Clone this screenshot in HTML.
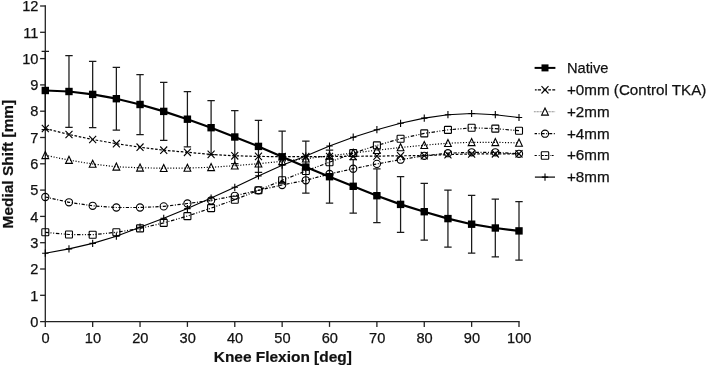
<!DOCTYPE html>
<html><head><meta charset="utf-8"><title>Medial Shift vs Knee Flexion</title>
<style>html,body{margin:0;padding:0;background:#fff}body{width:709px;height:367px;overflow:hidden}</style></head>
<body>
<svg width="709" height="367" viewBox="0 0 709 367" style="display:block">
<rect width="709" height="367" fill="#fff"/>
<g stroke="#222" stroke-width="1.3" fill="none">
<path d="M45.3 5.35L45.3 326.9"/>
<path d="M40.1 321.6L519.65 321.6"/>
<path d="M40.1 295.3L45.3 295.3"/>
<path d="M40.1 269L45.3 269"/>
<path d="M40.1 242.7L45.3 242.7"/>
<path d="M40.1 216.4L45.3 216.4"/>
<path d="M40.1 190.1L45.3 190.1"/>
<path d="M40.1 163.8L45.3 163.8"/>
<path d="M40.1 137.5L45.3 137.5"/>
<path d="M40.1 111.2L45.3 111.2"/>
<path d="M40.1 84.9L45.3 84.9"/>
<path d="M40.1 58.6L45.3 58.6"/>
<path d="M40.1 32.3L45.3 32.3"/>
<path d="M40.1 6L45.3 6"/>
<path d="M92.67 321.6L92.67 326.9"/>
<path d="M140.04 321.6L140.04 326.9"/>
<path d="M187.41 321.6L187.41 326.9"/>
<path d="M234.78 321.6L234.78 326.9"/>
<path d="M282.15 321.6L282.15 326.9"/>
<path d="M329.52 321.6L329.52 326.9"/>
<path d="M376.89 321.6L376.89 326.9"/>
<path d="M424.26 321.6L424.26 326.9"/>
<path d="M471.63 321.6L471.63 326.9"/>
<path d="M519 321.6L519 326.9"/>
</g>
<g font-family="'Liberation Sans', Arial, sans-serif" font-size="14.6" fill="#111" stroke="#111" stroke-width="0.25">
<text x="38.4" y="326.8" text-anchor="end">0</text>
<text x="38.4" y="300.5" text-anchor="end">1</text>
<text x="38.4" y="274.2" text-anchor="end">2</text>
<text x="38.4" y="247.9" text-anchor="end">3</text>
<text x="38.4" y="221.6" text-anchor="end">4</text>
<text x="38.4" y="195.3" text-anchor="end">5</text>
<text x="38.4" y="169" text-anchor="end">6</text>
<text x="38.4" y="142.7" text-anchor="end">7</text>
<text x="38.4" y="116.4" text-anchor="end">8</text>
<text x="38.4" y="90.1" text-anchor="end">9</text>
<text x="38.4" y="63.8" text-anchor="end">10</text>
<text x="38.4" y="37.5" text-anchor="end">11</text>
<text x="38.4" y="11.2" text-anchor="end">12</text>
<text x="45.6" y="342.9" text-anchor="middle">0</text>
<text x="92.97" y="342.9" text-anchor="middle">10</text>
<text x="140.34" y="342.9" text-anchor="middle">20</text>
<text x="187.71" y="342.9" text-anchor="middle">30</text>
<text x="235.08" y="342.9" text-anchor="middle">40</text>
<text x="282.45" y="342.9" text-anchor="middle">50</text>
<text x="329.82" y="342.9" text-anchor="middle">60</text>
<text x="377.19" y="342.9" text-anchor="middle">70</text>
<text x="424.56" y="342.9" text-anchor="middle">80</text>
<text x="471.93" y="342.9" text-anchor="middle">90</text>
<text x="519.3" y="342.9" text-anchor="middle">100</text>
</g>
<g font-family="'Liberation Sans', Arial, sans-serif" font-size="15.45" font-weight="bold" fill="#111" stroke="#111" stroke-width="0.2">
<text x="282.8" y="362" text-anchor="middle">Knee Flexion [deg]</text>
<text transform="translate(13.0,164.1) rotate(-90)" text-anchor="middle">Medial Shift [mm]</text>
</g>
<g stroke="#1a1a1a" stroke-width="1.25" fill="none">
<path d="M45.3 51.3L45.3 129.7M41.6 51.3L49 51.3M41.6 129.7L49 129.7"/>
<path d="M68.98 55.7L68.98 127.3M65.28 55.7L72.69 55.7M65.28 127.3L72.69 127.3"/>
<path d="M92.67 61.3L92.67 127.5M88.97 61.3L96.37 61.3M88.97 127.5L96.37 127.5"/>
<path d="M116.36 67.3L116.36 130.1M112.66 67.3L120.06 67.3M112.66 130.1L120.06 130.1"/>
<path d="M140.04 74.5L140.04 134.5M136.34 74.5L143.74 74.5M136.34 134.5L143.74 134.5"/>
<path d="M163.72 82.4L163.72 140.4M160.03 82.4L167.42 82.4M160.03 140.4L167.42 140.4"/>
<path d="M187.41 91.5L187.41 146.9M183.71 91.5L191.11 91.5M183.71 146.9L191.11 146.9"/>
<path d="M211.1 100.7L211.1 154.7M207.4 100.7L214.8 100.7M207.4 154.7L214.8 154.7"/>
<path d="M234.78 110.5L234.78 163.5M231.08 110.5L238.48 110.5M231.08 163.5L238.48 163.5"/>
<path d="M258.46 120.4L258.46 172.4M254.76 120.4L262.16 120.4M254.76 172.4L262.16 172.4"/>
<path d="M282.15 131L282.15 182.6M278.45 131L285.85 131M278.45 182.6L285.85 182.6"/>
<path d="M305.84 141.1L305.84 193.1M302.14 141.1L309.54 141.1M302.14 193.1L309.54 193.1"/>
<path d="M329.52 150.2L329.52 203.2M325.82 150.2L333.22 150.2M325.82 203.2L333.22 203.2"/>
<path d="M353.21 159.5L353.21 213.1M349.51 159.5L356.91 159.5M349.51 213.1L356.91 213.1"/>
<path d="M376.89 168.8L376.89 222.6M373.19 168.8L380.59 168.8M373.19 222.6L380.59 222.6"/>
<path d="M400.58 176.5L400.58 232.3M396.88 176.5L404.28 176.5M396.88 232.3L404.28 232.3"/>
<path d="M424.26 183.4L424.26 240M420.56 183.4L427.96 183.4M420.56 240L427.96 240"/>
<path d="M447.94 190L447.94 247.2M444.25 190L451.64 190M444.25 247.2L451.64 247.2"/>
<path d="M471.63 195.3L471.63 253.1M467.93 195.3L475.33 195.3M467.93 253.1L475.33 253.1"/>
<path d="M495.31 199.1L495.31 256.9M491.62 199.1L499.01 199.1M491.62 256.9L499.01 256.9"/>
<path d="M519 201.7L519 260.1M515.3 201.7L522.7 201.7M515.3 260.1L522.7 260.1"/>
</g>
<g stroke="#000" fill="none" stroke-linejoin="round">
<polyline points="45.3,128.5 68.98,134.5 92.67,139.5 116.36,143.7 140.04,147.2 163.72,150.2 187.41,152.3 211.1,154.4 234.78,155.8 258.46,156.4 282.15,156.7 305.84,156.7 329.52,156.5 353.21,156.3 376.89,156.1 400.58,155.8 424.26,155.6 447.94,154.6 471.63,153.9 495.31,153.8 519,153.8" stroke-width="1.2" stroke-dasharray="2.6 1.7"/>
<polyline points="45.3,155.3 68.98,160.1 92.67,164 116.36,166.8 140.04,167.8 163.72,168.2 187.41,168 211.1,167.3 234.78,165.7 258.46,163.7 282.15,161.3 305.84,158.7 329.52,155.8 353.21,153 376.89,150.2 400.58,147.5 424.26,145.2 447.94,143.2 471.63,142.3 495.31,142.3 519,142.9" stroke-width="1.2" stroke-dasharray="1.1 1.7"/>
<polyline points="45.3,197 68.98,202.3 92.67,205.8 116.36,207.5 140.04,207.5 163.72,206.4 187.41,203.5 211.1,200.5 234.78,195.8 258.46,190.3 282.15,185 305.84,180.3 329.52,174 353.21,168.7 376.89,163.9 400.58,159.7 424.26,155.8 447.94,153.2 471.63,152.3 495.31,152.3 519,153.8" stroke-width="1.2" stroke-dasharray="3.2 1.6 1 1.6"/>
<polyline points="45.3,232.3 68.98,234.5 92.67,234.7 116.36,232.3 140.04,228.4 163.72,222.9 187.41,216.1 211.1,208.1 234.78,199.7 258.46,190.3 282.15,180.3 305.84,171 329.52,162.2 353.21,153.1 376.89,145.4 400.58,138.7 424.26,133.4 447.94,129.9 471.63,127.8 495.31,128.6 519,130.7" stroke-width="1.2" stroke-dasharray="3.5 1.7 1 1.7 1 1.7"/>
<polyline points="45.3,253.2 68.98,248.9 92.67,243.4 116.36,236.2 140.04,227.2 163.72,218.3 187.41,208.6 211.1,198 234.78,187.3 258.46,175.9 282.15,165.2 305.84,156.1 329.52,146 353.21,137.2 376.89,129.7 400.58,123.3 424.26,118.1 447.94,114.7 471.63,113.5 495.31,114.7 519,117.5" stroke-width="1.1"/>
<polyline points="45.3,90.5 68.98,91.5 92.67,94.4 116.36,98.7 140.04,104.5 163.72,111.4 187.41,119.2 211.1,127.7 234.78,137 258.46,146.4 282.15,156.8 305.84,167.1 329.52,176.7 353.21,186.3 376.89,195.7 400.58,204.4 424.26,211.7 447.94,218.6 471.63,224.2 495.31,228 519,230.9" stroke-width="2.2"/>
</g>
<path d="M41.8 124.8L48.8 132.2M41.8 132.2L48.8 124.8" stroke="#000" stroke-width="1.1" fill="none"/>
<path d="M65.48 130.8L72.48 138.2M65.48 138.2L72.48 130.8" stroke="#000" stroke-width="1.1" fill="none"/>
<path d="M89.17 135.8L96.17 143.2M89.17 143.2L96.17 135.8" stroke="#000" stroke-width="1.1" fill="none"/>
<path d="M112.86 140L119.86 147.4M112.86 147.4L119.86 140" stroke="#000" stroke-width="1.1" fill="none"/>
<path d="M136.54 143.5L143.54 150.9M136.54 150.9L143.54 143.5" stroke="#000" stroke-width="1.1" fill="none"/>
<path d="M160.22 146.5L167.22 153.9M160.22 153.9L167.22 146.5" stroke="#000" stroke-width="1.1" fill="none"/>
<path d="M183.91 148.6L190.91 156M183.91 156L190.91 148.6" stroke="#000" stroke-width="1.1" fill="none"/>
<path d="M207.6 150.7L214.6 158.1M207.6 158.1L214.6 150.7" stroke="#000" stroke-width="1.1" fill="none"/>
<path d="M231.28 152.1L238.28 159.5M231.28 159.5L238.28 152.1" stroke="#000" stroke-width="1.1" fill="none"/>
<path d="M254.96 152.7L261.96 160.1M254.96 160.1L261.96 152.7" stroke="#000" stroke-width="1.1" fill="none"/>
<path d="M278.65 153L285.65 160.4M278.65 160.4L285.65 153" stroke="#000" stroke-width="1.1" fill="none"/>
<path d="M302.34 153L309.34 160.4M302.34 160.4L309.34 153" stroke="#000" stroke-width="1.1" fill="none"/>
<path d="M326.02 152.8L333.02 160.2M326.02 160.2L333.02 152.8" stroke="#000" stroke-width="1.1" fill="none"/>
<path d="M349.71 152.6L356.71 160M349.71 160L356.71 152.6" stroke="#000" stroke-width="1.1" fill="none"/>
<path d="M373.39 152.4L380.39 159.8M373.39 159.8L380.39 152.4" stroke="#000" stroke-width="1.1" fill="none"/>
<path d="M397.08 152.1L404.08 159.5M397.08 159.5L404.08 152.1" stroke="#000" stroke-width="1.1" fill="none"/>
<path d="M420.76 151.9L427.76 159.3M420.76 159.3L427.76 151.9" stroke="#000" stroke-width="1.1" fill="none"/>
<path d="M444.44 150.9L451.44 158.3M444.44 158.3L451.44 150.9" stroke="#000" stroke-width="1.1" fill="none"/>
<path d="M468.13 150.2L475.13 157.6M468.13 157.6L475.13 150.2" stroke="#000" stroke-width="1.1" fill="none"/>
<path d="M491.81 150.1L498.81 157.5M491.81 157.5L498.81 150.1" stroke="#000" stroke-width="1.1" fill="none"/>
<path d="M515.5 150.1L522.5 157.5M515.5 157.5L522.5 150.1" stroke="#000" stroke-width="1.1" fill="none"/>
<path d="M45.3 151.5L48.7 158.6L41.9 158.6Z" stroke="#000" stroke-width="1.1" fill="none" stroke-linejoin="miter"/>
<path d="M68.98 156.3L72.39 163.4L65.58 163.4Z" stroke="#000" stroke-width="1.1" fill="none" stroke-linejoin="miter"/>
<path d="M92.67 160.2L96.07 167.3L89.27 167.3Z" stroke="#000" stroke-width="1.1" fill="none" stroke-linejoin="miter"/>
<path d="M116.36 163L119.76 170.1L112.95 170.1Z" stroke="#000" stroke-width="1.1" fill="none" stroke-linejoin="miter"/>
<path d="M140.04 164L143.44 171.1L136.64 171.1Z" stroke="#000" stroke-width="1.1" fill="none" stroke-linejoin="miter"/>
<path d="M163.72 164.4L167.12 171.5L160.32 171.5Z" stroke="#000" stroke-width="1.1" fill="none" stroke-linejoin="miter"/>
<path d="M187.41 164.2L190.81 171.3L184.01 171.3Z" stroke="#000" stroke-width="1.1" fill="none" stroke-linejoin="miter"/>
<path d="M211.1 163.5L214.5 170.6L207.7 170.6Z" stroke="#000" stroke-width="1.1" fill="none" stroke-linejoin="miter"/>
<path d="M234.78 161.9L238.18 169L231.38 169Z" stroke="#000" stroke-width="1.1" fill="none" stroke-linejoin="miter"/>
<path d="M258.46 159.9L261.86 167L255.06 167Z" stroke="#000" stroke-width="1.1" fill="none" stroke-linejoin="miter"/>
<path d="M282.15 157.5L285.55 164.6L278.75 164.6Z" stroke="#000" stroke-width="1.1" fill="none" stroke-linejoin="miter"/>
<path d="M305.84 154.9L309.24 162L302.44 162Z" stroke="#000" stroke-width="1.1" fill="none" stroke-linejoin="miter"/>
<path d="M329.52 152L332.92 159.1L326.12 159.1Z" stroke="#000" stroke-width="1.1" fill="none" stroke-linejoin="miter"/>
<path d="M353.21 149.2L356.61 156.3L349.81 156.3Z" stroke="#000" stroke-width="1.1" fill="none" stroke-linejoin="miter"/>
<path d="M376.89 146.4L380.29 153.5L373.49 153.5Z" stroke="#000" stroke-width="1.1" fill="none" stroke-linejoin="miter"/>
<path d="M400.58 143.7L403.98 150.8L397.18 150.8Z" stroke="#000" stroke-width="1.1" fill="none" stroke-linejoin="miter"/>
<path d="M424.26 141.4L427.66 148.5L420.86 148.5Z" stroke="#000" stroke-width="1.1" fill="none" stroke-linejoin="miter"/>
<path d="M447.94 139.4L451.34 146.5L444.55 146.5Z" stroke="#000" stroke-width="1.1" fill="none" stroke-linejoin="miter"/>
<path d="M471.63 138.5L475.03 145.6L468.23 145.6Z" stroke="#000" stroke-width="1.1" fill="none" stroke-linejoin="miter"/>
<path d="M495.31 138.5L498.71 145.6L491.92 145.6Z" stroke="#000" stroke-width="1.1" fill="none" stroke-linejoin="miter"/>
<path d="M519 139.1L522.4 146.2L515.6 146.2Z" stroke="#000" stroke-width="1.1" fill="none" stroke-linejoin="miter"/>
<circle cx="45.3" cy="197" r="3.6" stroke="#000" stroke-width="1.1" fill="none"/>
<circle cx="68.98" cy="202.3" r="3.6" stroke="#000" stroke-width="1.1" fill="none"/>
<circle cx="92.67" cy="205.8" r="3.6" stroke="#000" stroke-width="1.1" fill="none"/>
<circle cx="116.36" cy="207.5" r="3.6" stroke="#000" stroke-width="1.1" fill="none"/>
<circle cx="140.04" cy="207.5" r="3.6" stroke="#000" stroke-width="1.1" fill="none"/>
<circle cx="163.72" cy="206.4" r="3.6" stroke="#000" stroke-width="1.1" fill="none"/>
<circle cx="187.41" cy="203.5" r="3.6" stroke="#000" stroke-width="1.1" fill="none"/>
<circle cx="211.1" cy="200.5" r="3.6" stroke="#000" stroke-width="1.1" fill="none"/>
<circle cx="234.78" cy="195.8" r="3.6" stroke="#000" stroke-width="1.1" fill="none"/>
<circle cx="258.46" cy="190.3" r="3.6" stroke="#000" stroke-width="1.1" fill="none"/>
<circle cx="282.15" cy="185" r="3.6" stroke="#000" stroke-width="1.1" fill="none"/>
<circle cx="305.84" cy="180.3" r="3.6" stroke="#000" stroke-width="1.1" fill="none"/>
<circle cx="329.52" cy="174" r="3.6" stroke="#000" stroke-width="1.1" fill="none"/>
<circle cx="353.21" cy="168.7" r="3.6" stroke="#000" stroke-width="1.1" fill="none"/>
<circle cx="376.89" cy="163.9" r="3.6" stroke="#000" stroke-width="1.1" fill="none"/>
<circle cx="400.58" cy="159.7" r="3.6" stroke="#000" stroke-width="1.1" fill="none"/>
<circle cx="424.26" cy="155.8" r="3.6" stroke="#000" stroke-width="1.1" fill="none"/>
<circle cx="447.94" cy="153.2" r="3.6" stroke="#000" stroke-width="1.1" fill="none"/>
<circle cx="471.63" cy="152.3" r="3.6" stroke="#000" stroke-width="1.1" fill="none"/>
<circle cx="495.31" cy="152.3" r="3.6" stroke="#000" stroke-width="1.1" fill="none"/>
<circle cx="519" cy="153.8" r="3.6" stroke="#000" stroke-width="1.1" fill="none"/>
<rect x="41.8" y="228.8" width="7" height="7" rx="0.7" stroke="#000" stroke-width="1.1" fill="none"/>
<rect x="65.48" y="231" width="7" height="7" rx="0.7" stroke="#000" stroke-width="1.1" fill="none"/>
<rect x="89.17" y="231.2" width="7" height="7" rx="0.7" stroke="#000" stroke-width="1.1" fill="none"/>
<rect x="112.86" y="228.8" width="7" height="7" rx="0.7" stroke="#000" stroke-width="1.1" fill="none"/>
<rect x="136.54" y="224.9" width="7" height="7" rx="0.7" stroke="#000" stroke-width="1.1" fill="none"/>
<rect x="160.22" y="219.4" width="7" height="7" rx="0.7" stroke="#000" stroke-width="1.1" fill="none"/>
<rect x="183.91" y="212.6" width="7" height="7" rx="0.7" stroke="#000" stroke-width="1.1" fill="none"/>
<rect x="207.6" y="204.6" width="7" height="7" rx="0.7" stroke="#000" stroke-width="1.1" fill="none"/>
<rect x="231.28" y="196.2" width="7" height="7" rx="0.7" stroke="#000" stroke-width="1.1" fill="none"/>
<rect x="254.96" y="186.8" width="7" height="7" rx="0.7" stroke="#000" stroke-width="1.1" fill="none"/>
<rect x="278.65" y="176.8" width="7" height="7" rx="0.7" stroke="#000" stroke-width="1.1" fill="none"/>
<rect x="302.34" y="167.5" width="7" height="7" rx="0.7" stroke="#000" stroke-width="1.1" fill="none"/>
<rect x="326.02" y="158.7" width="7" height="7" rx="0.7" stroke="#000" stroke-width="1.1" fill="none"/>
<rect x="349.71" y="149.6" width="7" height="7" rx="0.7" stroke="#000" stroke-width="1.1" fill="none"/>
<rect x="373.39" y="141.9" width="7" height="7" rx="0.7" stroke="#000" stroke-width="1.1" fill="none"/>
<rect x="397.08" y="135.2" width="7" height="7" rx="0.7" stroke="#000" stroke-width="1.1" fill="none"/>
<rect x="420.76" y="129.9" width="7" height="7" rx="0.7" stroke="#000" stroke-width="1.1" fill="none"/>
<rect x="444.44" y="126.4" width="7" height="7" rx="0.7" stroke="#000" stroke-width="1.1" fill="none"/>
<rect x="468.13" y="124.3" width="7" height="7" rx="0.7" stroke="#000" stroke-width="1.1" fill="none"/>
<rect x="491.81" y="125.1" width="7" height="7" rx="0.7" stroke="#000" stroke-width="1.1" fill="none"/>
<rect x="515.5" y="127.2" width="7" height="7" rx="0.7" stroke="#000" stroke-width="1.1" fill="none"/>
<path d="M42.1 253.2L48.5 253.2M45.3 249.6L45.3 256.8" stroke="#000" stroke-width="1.1" fill="none"/>
<path d="M65.78 248.9L72.19 248.9M68.98 245.3L68.98 252.5" stroke="#000" stroke-width="1.1" fill="none"/>
<path d="M89.47 243.4L95.87 243.4M92.67 239.8L92.67 247" stroke="#000" stroke-width="1.1" fill="none"/>
<path d="M113.16 236.2L119.56 236.2M116.36 232.6L116.36 239.8" stroke="#000" stroke-width="1.1" fill="none"/>
<path d="M136.84 227.2L143.24 227.2M140.04 223.6L140.04 230.8" stroke="#000" stroke-width="1.1" fill="none"/>
<path d="M160.53 218.3L166.92 218.3M163.72 214.7L163.72 221.9" stroke="#000" stroke-width="1.1" fill="none"/>
<path d="M184.21 208.6L190.61 208.6M187.41 205L187.41 212.2" stroke="#000" stroke-width="1.1" fill="none"/>
<path d="M207.9 198L214.3 198M211.1 194.4L211.1 201.6" stroke="#000" stroke-width="1.1" fill="none"/>
<path d="M231.58 187.3L237.98 187.3M234.78 183.7L234.78 190.9" stroke="#000" stroke-width="1.1" fill="none"/>
<path d="M255.26 175.9L261.66 175.9M258.46 172.3L258.46 179.5" stroke="#000" stroke-width="1.1" fill="none"/>
<path d="M278.95 165.2L285.35 165.2M282.15 161.6L282.15 168.8" stroke="#000" stroke-width="1.1" fill="none"/>
<path d="M302.64 156.1L309.04 156.1M305.84 152.5L305.84 159.7" stroke="#000" stroke-width="1.1" fill="none"/>
<path d="M326.32 146L332.72 146M329.52 142.4L329.52 149.6" stroke="#000" stroke-width="1.1" fill="none"/>
<path d="M350.01 137.2L356.41 137.2M353.21 133.6L353.21 140.8" stroke="#000" stroke-width="1.1" fill="none"/>
<path d="M373.69 129.7L380.09 129.7M376.89 126.1L376.89 133.3" stroke="#000" stroke-width="1.1" fill="none"/>
<path d="M397.38 123.3L403.78 123.3M400.58 119.7L400.58 126.9" stroke="#000" stroke-width="1.1" fill="none"/>
<path d="M421.06 118.1L427.46 118.1M424.26 114.5L424.26 121.7" stroke="#000" stroke-width="1.1" fill="none"/>
<path d="M444.75 114.7L451.14 114.7M447.94 111.1L447.94 118.3" stroke="#000" stroke-width="1.1" fill="none"/>
<path d="M468.43 113.5L474.83 113.5M471.63 109.9L471.63 117.1" stroke="#000" stroke-width="1.1" fill="none"/>
<path d="M492.12 114.7L498.51 114.7M495.31 111.1L495.31 118.3" stroke="#000" stroke-width="1.1" fill="none"/>
<path d="M515.8 117.5L522.2 117.5M519 113.9L519 121.1" stroke="#000" stroke-width="1.1" fill="none"/>
<rect x="41.6" y="86.8" width="7.4" height="7.4" fill="#000"/>
<rect x="65.28" y="87.8" width="7.4" height="7.4" fill="#000"/>
<rect x="88.97" y="90.7" width="7.4" height="7.4" fill="#000"/>
<rect x="112.66" y="95" width="7.4" height="7.4" fill="#000"/>
<rect x="136.34" y="100.8" width="7.4" height="7.4" fill="#000"/>
<rect x="160.03" y="107.7" width="7.4" height="7.4" fill="#000"/>
<rect x="183.71" y="115.5" width="7.4" height="7.4" fill="#000"/>
<rect x="207.4" y="124" width="7.4" height="7.4" fill="#000"/>
<rect x="231.08" y="133.3" width="7.4" height="7.4" fill="#000"/>
<rect x="254.76" y="142.7" width="7.4" height="7.4" fill="#000"/>
<rect x="278.45" y="153.1" width="7.4" height="7.4" fill="#000"/>
<rect x="302.14" y="163.4" width="7.4" height="7.4" fill="#000"/>
<rect x="325.82" y="173" width="7.4" height="7.4" fill="#000"/>
<rect x="349.51" y="182.6" width="7.4" height="7.4" fill="#000"/>
<rect x="373.19" y="192" width="7.4" height="7.4" fill="#000"/>
<rect x="396.88" y="200.7" width="7.4" height="7.4" fill="#000"/>
<rect x="420.56" y="208" width="7.4" height="7.4" fill="#000"/>
<rect x="444.25" y="214.9" width="7.4" height="7.4" fill="#000"/>
<rect x="467.93" y="220.5" width="7.4" height="7.4" fill="#000"/>
<rect x="491.62" y="224.3" width="7.4" height="7.4" fill="#000"/>
<rect x="515.3" y="227.2" width="7.4" height="7.4" fill="#000"/>
<g stroke="#000" fill="none">
<path d="M534.6 67.9L555.4 67.9" stroke-width="2"/>
<path d="M534.9 89.8H536.7M537.8 89.8H541M543.5 89.8H546.5M548.3 89.8H550.9M552.3 89.8H555.2" stroke-width="1.2"/>
<path d="M533.9 111.8H555.1" stroke="#777" stroke-width="1.1" stroke-dasharray="0.9 0.6"/>
<path d="M534.6 133.7H555.2" stroke-width="1.2" stroke-dasharray="3 1.6 1 2" stroke-dashoffset="0.6"/>
<path d="M534.6 155.5H536.8M538.7 155.5H539.7M541.8 155.5H543.8M544.8 155.5H547.6M550.5 155.5H551.3M551.9 155.5H553.6" stroke-width="1.2"/>
<path d="M534.9 177.1L555.0 177.1" stroke-width="1.2"/>
</g>
<rect x="541.5" y="64.4" width="7" height="7" fill="#000"/>
<path d="M541.5 86.1L548.5 93.5M541.5 93.5L548.5 86.1" stroke="#000" stroke-width="1.1" fill="none"/>
<path d="M545.0 108.5L548.4 115.1L541.6 115.1Z" fill="#fff"/>
<path d="M545 108L548.4 115.1L541.6 115.1Z" stroke="#000" stroke-width="1.1" fill="none" stroke-linejoin="miter"/>
<circle cx="545" cy="133.7" r="3.6" stroke="#000" stroke-width="1.1" fill="none"/>
<rect x="541.3" y="151.8" width="7.4" height="7.4" rx="0.7" stroke="#000" stroke-width="1.1" fill="none"/>
<path d="M541.8 177.1L548.2 177.1M545 173.5L545 180.7" stroke="#000" stroke-width="1.1" fill="none"/>
<g font-family="'Liberation Sans', Arial, sans-serif" font-size="15.2" fill="#111" stroke="#111" stroke-width="0.25">
<text x="567.0" y="72.8" textLength="41.5" lengthAdjust="spacingAndGlyphs">Native</text>
<text x="567.0" y="94.7">+0mm (Control TKA)</text>
<text x="567.0" y="116.7">+2mm</text>
<text x="567.0" y="138.6">+4mm</text>
<text x="567.0" y="160.4">+6mm</text>
<text x="567.0" y="182">+8mm</text>
</g>
</svg>
</body></html>
